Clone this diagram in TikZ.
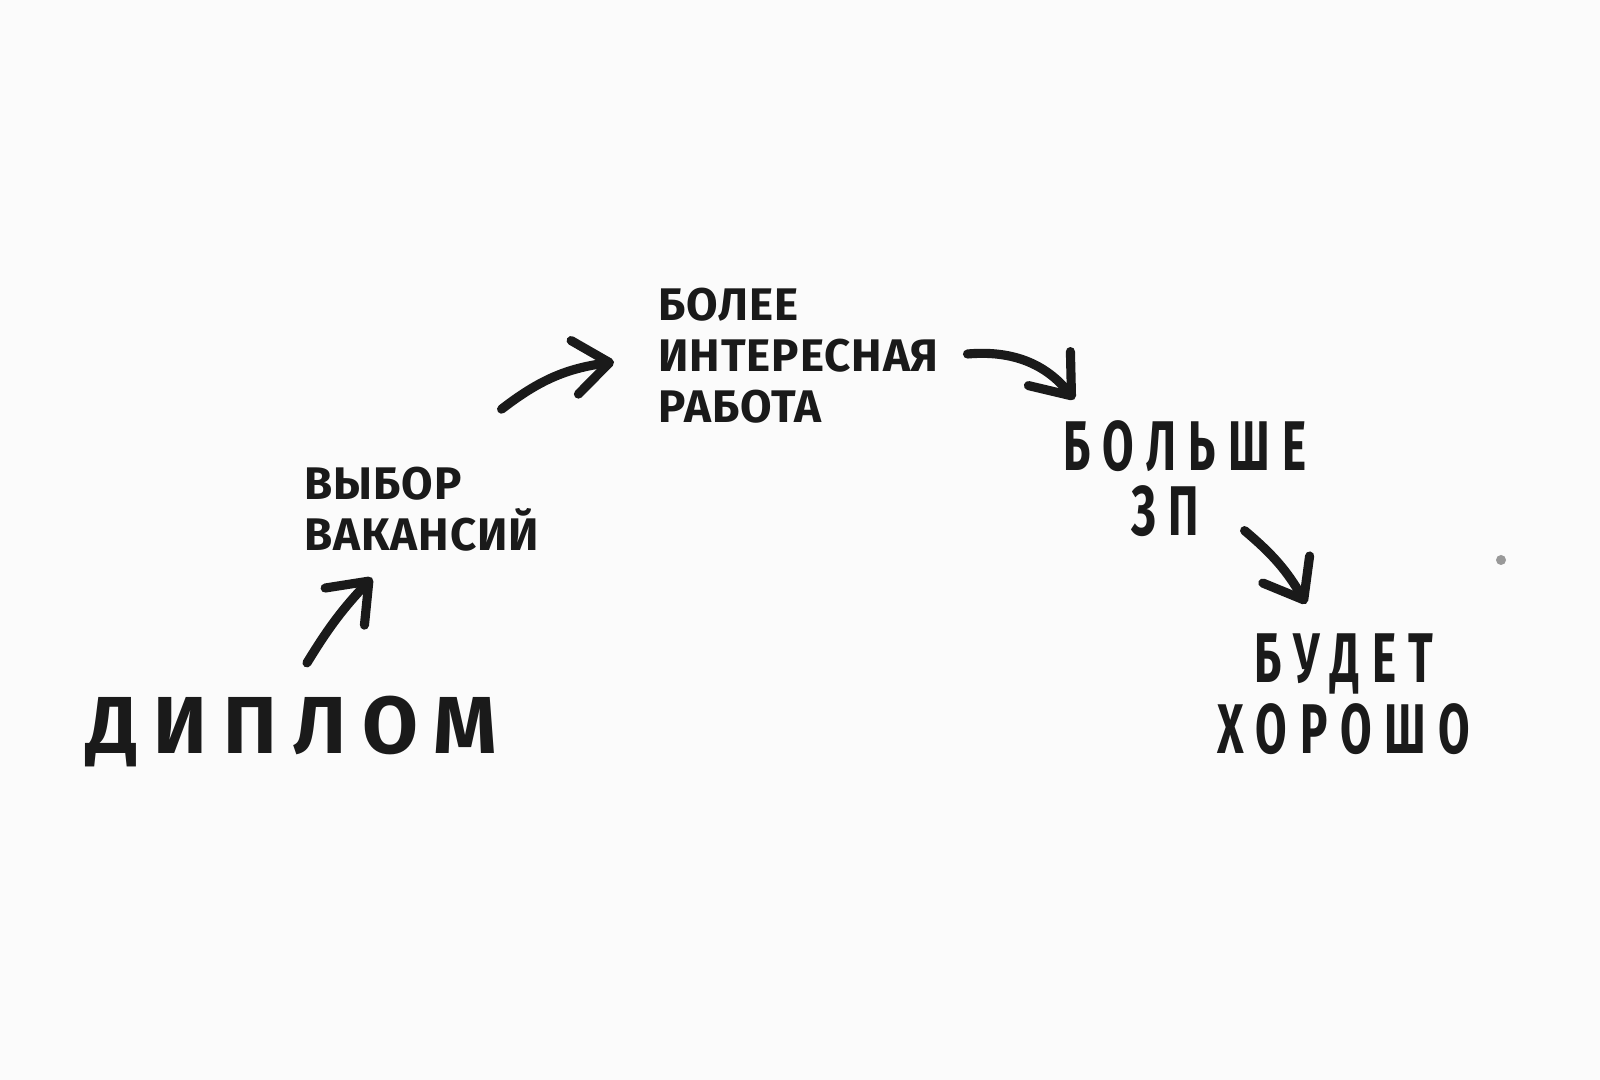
\documentclass[tikz,border=0pt]{standalone}
\usepackage{fontspec}
\setmainfont{Fira Sans}
\newfontfamily\bighand[LetterSpace=20]{Fira Sans}
\newfontfamily\midhand[FakeStretch=0.65, LetterSpace=18]{Fira Sans}
\newfontfamily\smallhand[LetterSpace=2]{Fira Sans}
\usetikzlibrary{arrows.meta, calc}
\definecolor{paper}{HTML}{FBFBFB}
\definecolor{ink}{HTML}{1A1A1A}

\begin{document}
\begin{tikzpicture}[
    x=0.01cm, y=-0.01cm,
    % Стиль для крупных надписей
    bigword/.style={inner sep=0pt, text=ink, font=\bighand\bfseries\fontsize{23}{26}\selectfont},
    % Стиль для средних надписей
    midword/.style={inner sep=0pt, text=ink, align=center, font=\midhand\bfseries\fontsize{20}{20.2}\selectfont},
    % Стиль для мелких надписей
    smallword/.style={inner sep=0pt, text=ink, align=left, font=\smallhand\bfseries\fontsize{13}{14.5}\selectfont},
    % Стиль для стрелок от руки
    handarrow/.style={draw=ink, line width=2.6pt, line cap=round, -{Straight Barb[length=3.5mm, width=5.4mm, round]}}
]

    % Фон
    \fill[paper] (0,0) rectangle (1600,1080);
    \useasboundingbox (0,0) rectangle (1600,1080);

    % ==========================================
    % НАДПИСИ
    % ==========================================
    \node[bigword, anchor=base] (diplom) at (292,754) {ДИПЛОМ};
    \node[smallword, anchor=west] (vybor) at (304,509) {ВЫБОР\\ВАКАНСИЙ};
    \node[smallword, anchor=west] (bolee) at (658,356) {БОЛЕЕ\\ИНТЕРЕСНАЯ\\РАБОТА};
    \node[midword, anchor=base] (bolshe) at (1185,471) {БОЛЬШЕ};
    \node[midword, anchor=base] (zp) at (1165,536) {ЗП};
    \node[midword] (budet) at (1344,694) {БУДЕТ\\ХОРОШО};

    % Точка справа
    \fill[gray!80] (1501,560) circle[radius=0.05cm];

    % ==========================================
    % СТРЕЛКИ
    % ==========================================
    \draw[handarrow] ($(diplom.north)+(15,-33)$) to[bend left=6] ($(vybor.south west)+(68,26)$);
    \draw[handarrow] ($(vybor.north east)+(-38,-57)$) to[bend left=15] ($(bolee.west)+(-44,6)$);
    \draw[handarrow] ($(bolee.east)+(28,-2)$) to[bend left=28] ($(bolshe.north west)+(12,-21)$);
    \draw[handarrow] ($(zp.east)+(45,19)$) to[bend left=10] ($(budet.north)+(-38,-29)$);

\end{tikzpicture}
\end{document}
